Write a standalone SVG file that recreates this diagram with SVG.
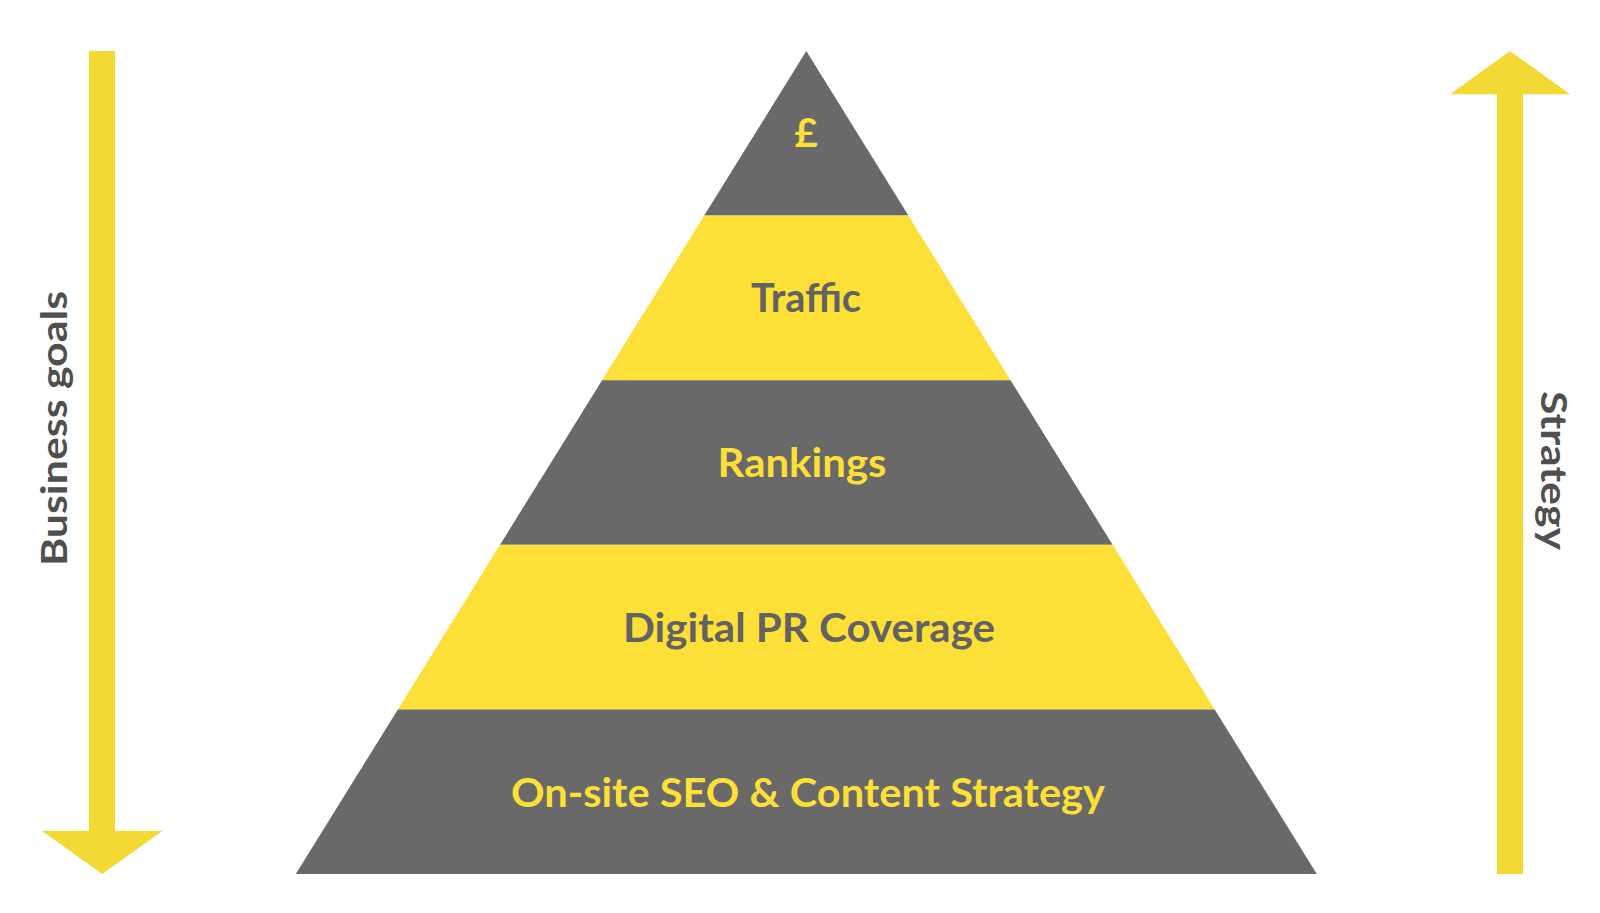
<svg xmlns="http://www.w3.org/2000/svg" width="1600" height="913" viewBox="0 0 1600 913">
<style>
.y{fill:#FCDF37}
.g{fill:#696969}
.a{fill:#F2D934}
.t{font-family:Lato,"Open Sans","Liberation Sans",sans-serif;font-weight:700;font-size:40px;text-anchor:middle}
.ty{fill:#FCDF37}
.tg{fill:#626262}
.s{font-family:Lato,"Open Sans","Liberation Sans",sans-serif;font-weight:700;font-size:37px;text-anchor:middle;fill:#4F4F4F}
</style>
<rect width="1600" height="913" fill="#FFFFFF"/>
<g id="layer-money">
<polygon class="g" points="806.3,51 908.4,215.6 704.2,215.6"/>
<text class="t ty" x="806" y="147">£</text>
</g>
<g id="layer-traffic">
<polygon class="y" points="704.2,215.6 908.4,215.6 1010.5,380.2 602.1,380.2"/>
<text class="t tg" x="806" y="311.7" textLength="110" lengthAdjust="spacingAndGlyphs">Traffic</text>
</g>
<g id="layer-rankings">
<polygon class="g" points="602.1,380.2 1010.5,380.2 1112.6,544.8 500,544.8"/>
<text class="t ty" x="802" y="476.7" textLength="169" lengthAdjust="spacingAndGlyphs">Rankings</text>
</g>
<g id="layer-pr">
<polygon class="y" points="500,544.8 1112.6,544.8 1214.7,709.4 397.9,709.4"/>
<text class="t tg" x="809" y="641.7" textLength="372" lengthAdjust="spacingAndGlyphs">Digital PR Coverage</text>
</g>
<g id="layer-seo">
<polygon class="g" points="397.9,709.4 1214.7,709.4 1316.8,874 295.8,874"/>
<text class="t ty" x="808" y="806.5" textLength="594" lengthAdjust="spacingAndGlyphs">On-site SEO &amp; Content Strategy</text>
</g>
<g id="connectors">
<g id="arrow-business-goals">
<rect class="a" x="89" y="51" width="26" height="781"/>
<polygon class="a" points="41.7,830.7 162.7,830.7 102.2,874"/>
</g>
<g id="arrow-strategy">
<rect class="a" x="1497" y="93" width="26" height="781"/>
<polygon class="a" points="1450,94.3 1570,94.3 1510,51"/>
</g>
</g>
<g id="label-business-goals">
<text class="s" transform="translate(67,428.5) rotate(-90)" textLength="275" lengthAdjust="spacingAndGlyphs">Business goals</text>
</g>
<g id="label-strategy">
<text class="s" transform="translate(1541,470.5) rotate(90)" textLength="159" lengthAdjust="spacingAndGlyphs">Strategy</text>
</g>
</svg>
